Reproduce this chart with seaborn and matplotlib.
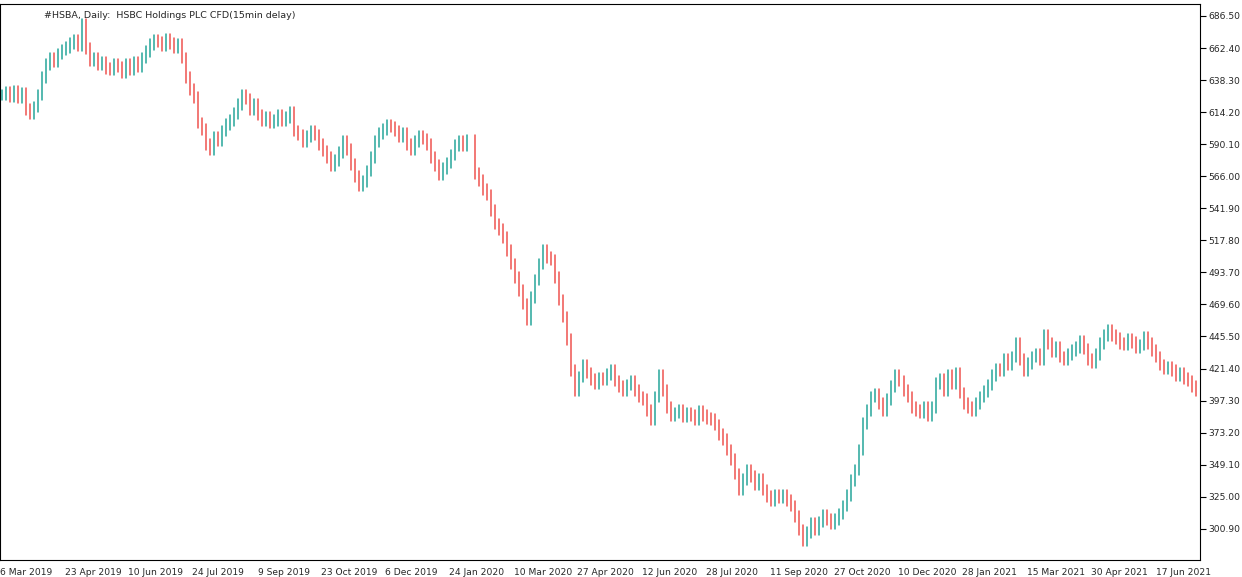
import matplotlib
matplotlib.use("Agg")
import matplotlib.pyplot as plt
import seaborn as sns
import pandas as pd

closes_a = [627,629,626,630,625,628,616,613,618,627,640,650,655,652,658,661,663,666,668,664,680,662,653,655,650,652,647,646,650,648,644,650,646,652,648,655,660,665,668,667,664,669,666,663,665,655,640,631,625,606,601,590,586,595,593,600,605,608,613,620,627,624,616,620,612,608,610,606,608,612,608,610,614,600,597,592,596,600,597,590,585,580,574,578,584,592,586,575,566,559,562,570,580,592,598,601,604,603,600,596,598,590,586,592,596,594,590,580,574,567,572,576,582,589,592,589,593]
closes_b = [568,563,556,552,540,530,526,520,510,500,490,480,470,458,475,488,500,510,505,503,490,473,460,443,420,405,415,424,418,413,410,414,413,417,420,412,408,405,409,412,405,400,398,390,383,400,416,405,392,386,388,390,385,388,386,383,389,386,384,383,379,372,368,360,353,342,330,338,345,340,334,338,330,325,322,326,324,326,322,318,310,300,292,298,305,300,306,311,308,305,308,312,318,326,337,345,360,380,390,400,402,395,390,398,408,416,412,405,400,392,390,388,392,386,392,410,413,405,416,410,418,403,395,392,390,395,400,404,409,416,421,420,428,424,430,440,428,420,425,430,432,428,446,440,434,437,430,428,432,435,437,442,436,428,426,432,440,446,450,446,444,440,439,443,441,437,439,445,440,435,430,424,421,422,420,416,418,414,412,408,405]
wick = 4.0
tick_labels = ["6 Mar 2019","23 Apr 2019","10 Jun 2019","24 Jul 2019","9 Sep 2019","23 Oct 2019","6 Dec 2019","24 Jan 2020","10 Mar 2020","27 Apr 2020","12 Jun 2020","28 Jul 2020","11 Sep 2020","27 Oct 2020","10 Dec 2020","28 Jan 2021","15 Mar 2021","30 Apr 2021","17 Jun 2021"]
tick_pos = [0,65,128,192,258,321,385,449,514,577,642,706,770,834,898,962,1027,1091,1156]
price_ticks = [686.50,662.40,638.30,614.20,590.10,566.00,541.90,517.80,493.70,469.60,445.50,421.40,397.30,373.20,349.10,325.00,300.90]

sns.set_style("white")
plt.rcParams['font.family'] = ['DejaVu Sans']

n = len(closes_a) + 1 + len(closes_b)
step = 1198.0 / n
rows = []
prev = closes_a[0]
idx = 0
for seq in (closes_a, closes_b):
    for c in seq:
        o = prev
        hi = max(o, c) + wick
        lo = min(o, c) - wick
        d = "up" if c >= o else "down"
        x = idx * step + 2
        rows.append({"x": x, "y": lo, "bar": idx, "dir": d})
        rows.append({"x": x, "y": hi, "bar": idx, "dir": d})
        prev = c
        idx += 1
    idx += 1
df = pd.DataFrame(rows)

fig = plt.figure(figsize=(12.42, 5.77), dpi=100)
ax = fig.add_axes([0.0, 1 - 560/577, 1200/1242, 556/577])
sns.lineplot(data=df, x="x", y="y", units="bar", hue="dir", estimator=None,
             palette={"up": "#26a69a", "down": "#ef5350"}, linewidth=1.1, ax=ax, legend=False)
ax.set_xlim(0, 1200)
ax.set_ylim(277.4, 695.5)
ax.yaxis.tick_right()
ax.set_yticks(price_ticks)
ax.set_yticklabels([f"{v:.2f}" for v in price_ticks], fontsize=6.6)
ax.set_xticks(tick_pos)
ax.set_xticklabels(tick_labels, fontsize=6.6, ha="left")
ax.tick_params(axis="both", length=4, width=0.8, color="black", direction="out", pad=2)
ax.set_xlabel(""); ax.set_ylabel("")
for s in ax.spines.values():
    s.set_color("black"); s.set_linewidth(0.8)
ax.text(0.037, 0.987, "#HSBA, Daily:  HSBC Holdings PLC CFD(15min delay)", transform=ax.transAxes,
        fontsize=6.8, va="top", ha="left")
fig.savefig("out.png", dpi=100)
